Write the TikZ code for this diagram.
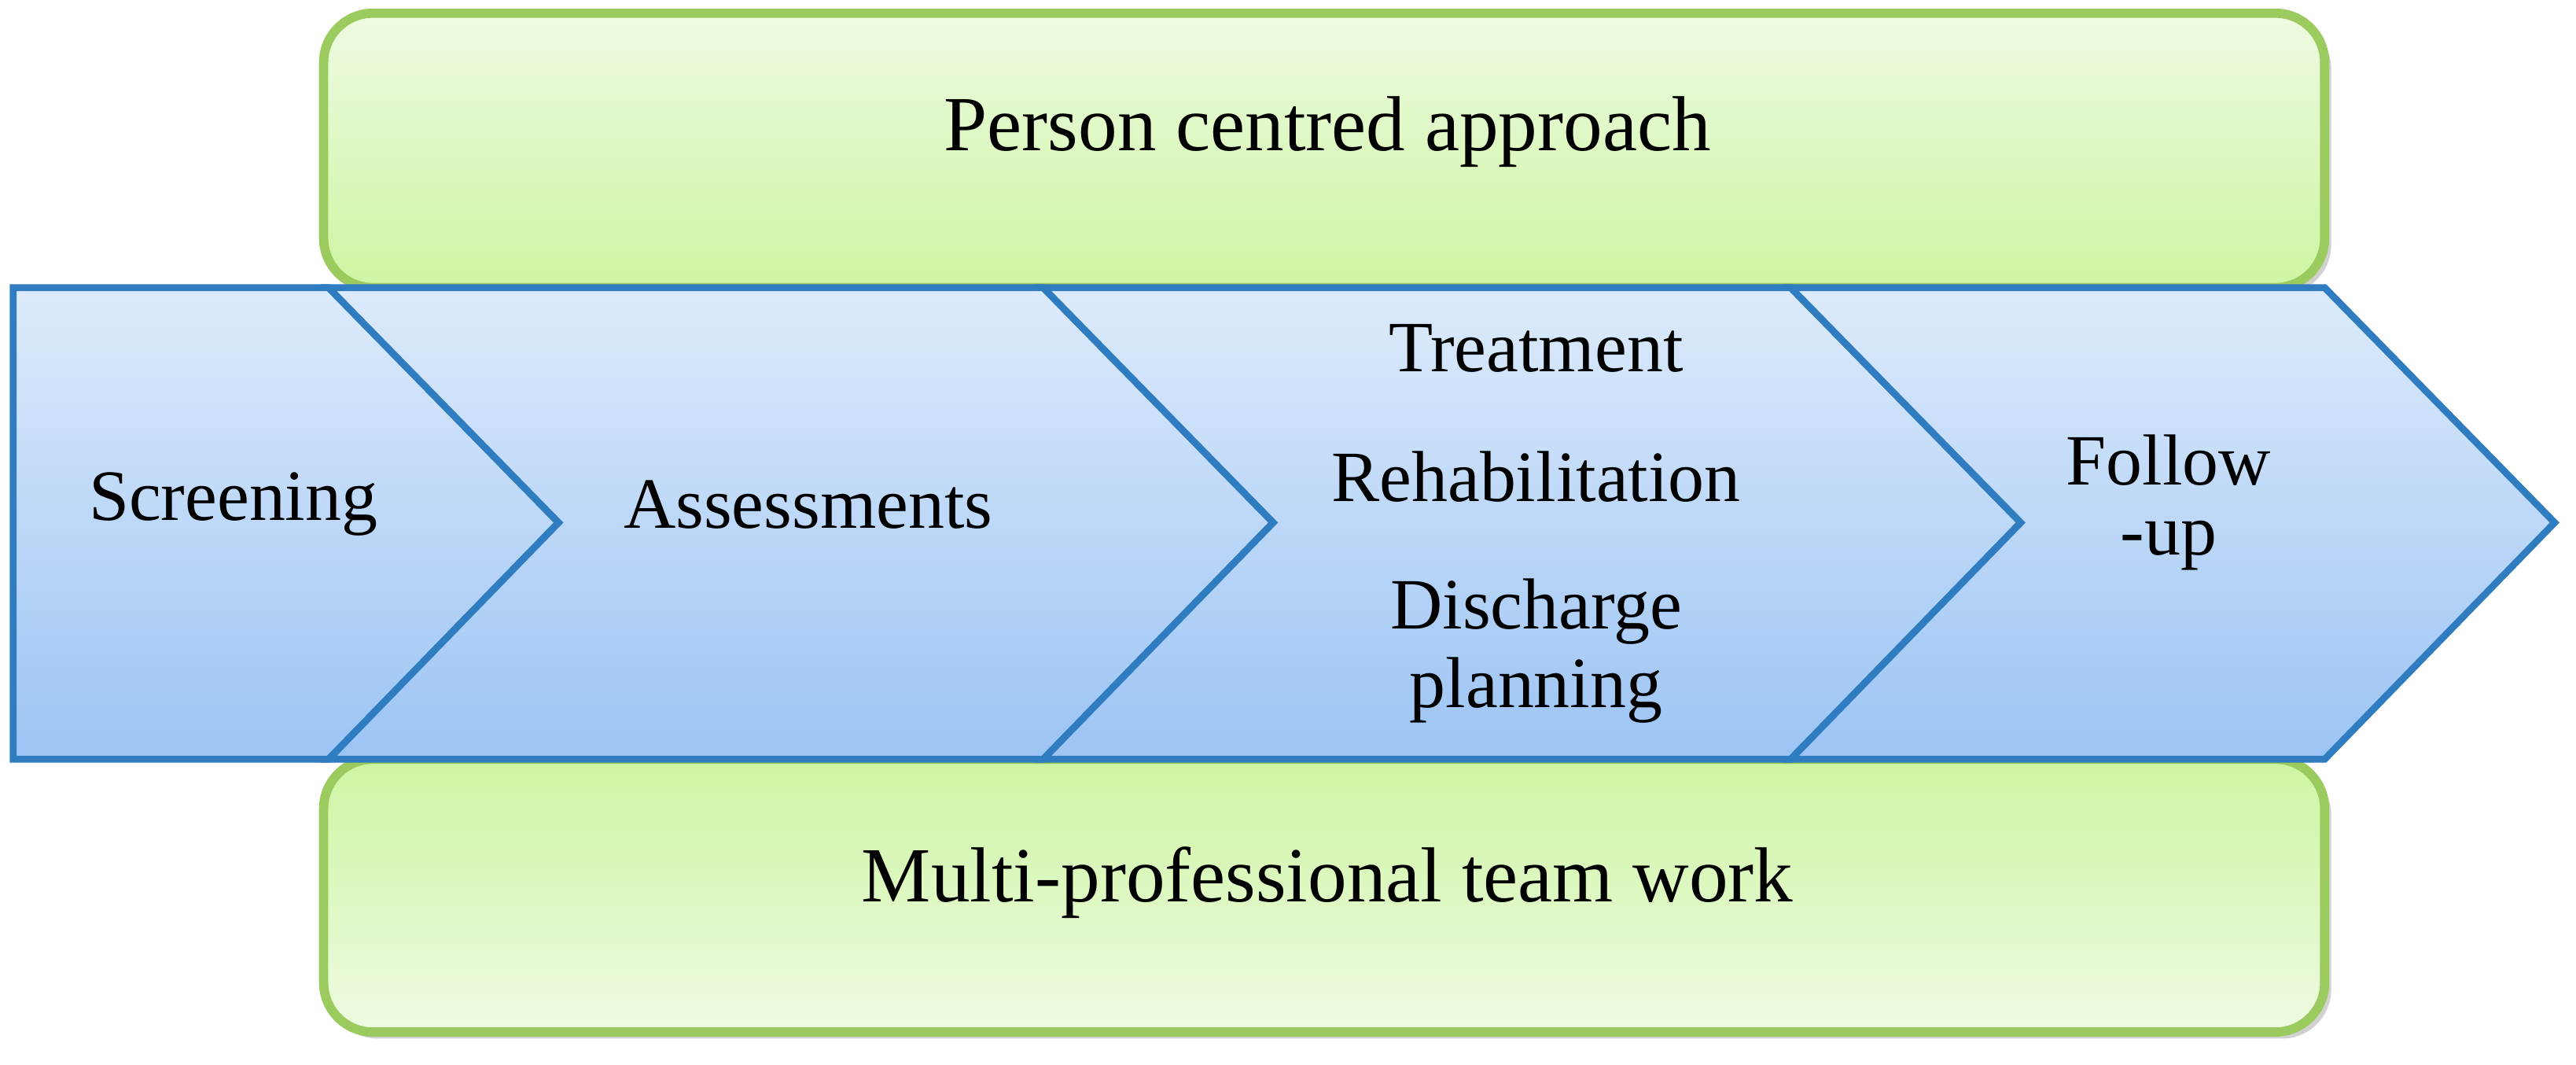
\documentclass[tikz,border=0pt]{standalone}
\usepackage{fontspec}
\setmainfont{Liberation Serif}
\begin{document}
\begin{tikzpicture}[x=0.01cm,y=-0.01cm,
  green/.style={draw=grnline,line width=1.6pt,rounded corners=0.3cm},
  chev/.style={draw=bluline,line width=1.2pt,top color=blutop,bottom color=blubot,line join=miter},
  lab/.style={font=\fontsize{12.5pt}{15pt}\selectfont,inner sep=0pt},
  big/.style={font=\fontsize{13.5pt}{16pt}\selectfont,inner sep=0pt}]
\definecolor{grnline}{HTML}{9BCB5E}
\definecolor{grnlight}{HTML}{EEFBE2}
\definecolor{grndark}{HTML}{CDF5A2}
\definecolor{bluline}{HTML}{2F7DC0}
\definecolor{blutop}{HTML}{DDEBFB}
\definecolor{blubot}{HTML}{9CC4F4}
\useasboundingbox (0,0) rectangle (1568,647.6);
% shadows
\fill[black!18,rounded corners=0.3cm] (200,12) rectangle (1419,179);
\fill[black!18,rounded corners=0.3cm] (200,466) rectangle (1419,632);
\path[green,top color=grnlight,bottom color=grndark] (197,8) rectangle (1415,175);
\path[green,top color=grndark,bottom color=grnlight] (197,462) rectangle (1415,628);
\path[chev] (8,175) -- (200,175) -- (340,318) -- (200,462) -- (8,462) -- cycle;
\path[chev] (200,175) -- (635,175) -- (775,318) -- (635,462) -- (200,462) -- (340,318) -- cycle;
\path[chev] (635,175) -- (1090,175) -- (1230,318) -- (1090,462) -- (635,462) -- (775,318) -- cycle;
\path[chev] (1090,175) -- (1415,175) -- (1555,318) -- (1415,462) -- (1090,462) -- (1230,318) -- cycle;
\node[big] (pca) at (808,80) {Person centred approach};
\node[big] (mpt) at (808,537) {Multi-professional team work};
\node[lab] (scr) at (142,307) {Screening};
\node[lab] (ass) at (492,307) {Assessments};
\node[lab] (tre) at (935,212) {Treatment};
\node[lab] (reh) at (935,290) {Rehabilitation};
\node[lab] (dis) at (935,372) {Discharge};
\node[lab] (pla) at (935,420) {planning};
\node[lab] (fol) at (1320,280) {Follow};
\node[lab] (up) at (1320,332) {-up};
\end{tikzpicture}
\end{document}
